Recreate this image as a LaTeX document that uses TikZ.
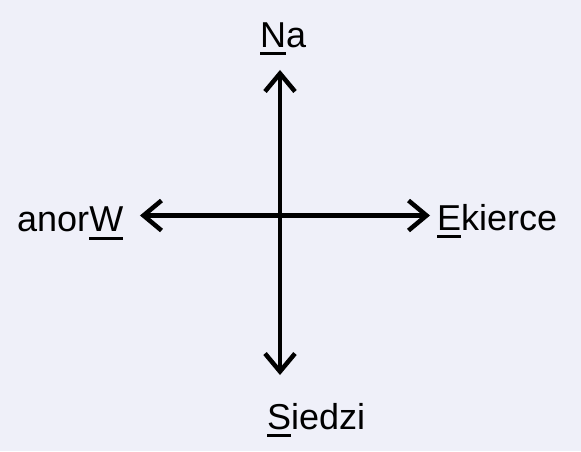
\documentclass[tikz,border=0pt]{standalone}
\usepackage{fontspec}
\setmainfont{Liberation Sans}
\definecolor{bgc}{RGB}{239,240,249}
\newcommand\ulet[1]{\setbox0\hbox{#1}\rlap{\rule[-8pt]{\wd0}{3pt}}\box0}
\tikzset{
  lbl/.style={inner sep=0pt, anchor=base west, font=\fontsize{36}{40}\selectfont},
  axis/.style={line width=4.5pt},
  chev/.style={line width=4.5pt, line join=miter}
}
\begin{document}
\begin{tikzpicture}[x=1pt,y=-1pt]
\fill[bgc] (0,0) rectangle (581,451);
\useasboundingbox (0,0) rectangle (581,451);
\coordinate (n) at (280,73.5);
\coordinate (s) at (280,371.5);
\coordinate (w) at (143.5,215.5);
\coordinate (e) at (426.5,215.5);
\draw[axis] (s) -- (n);
\draw[axis] (w) -- (e);
\draw[chev] (n) ++(-15,18) -- (n) -- ++(15,18);
\draw[chev] (s) ++(-15,-18) -- (s) -- ++(15,-18);
\draw[chev] (w) ++(18,-15) -- (w) -- ++(18,15);
\draw[chev] (e) ++(-18,-15) -- (e) -- ++(-18,15);
\node[lbl] (tn) at (260,47) {\ulet{N}a};
\node[lbl] (tw) at (17,231.5) {anor\ulet{W}};
\node[lbl] (te) at (437,230) {\ulet{E}kierce};
\node[lbl] (ts) at (267,429) {\ulet{S}iedzi};
\end{tikzpicture}
\end{document}
